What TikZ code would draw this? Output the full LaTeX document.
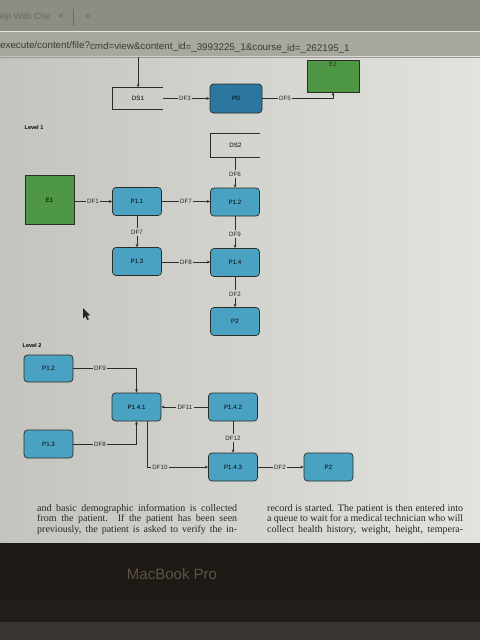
\documentclass[tikz,border=0pt]{standalone}
\usepackage{fontspec}
\setmainfont{Liberation Serif}
\setsansfont{Liberation Sans}
\usetikzlibrary{arrows.meta,calc}
\definecolor{tabbar}{HTML}{8D8C85}
\definecolor{tabtext}{HTML}{6A6A64}
\definecolor{addrbar}{HTML}{A9A89F}
\definecolor{addrtext}{HTML}{3A3934}
\definecolor{pageL}{HTML}{C4C4BF}
\definecolor{pageR}{HTML}{E2E2DE}
\definecolor{bezel}{HTML}{1D1915}
\definecolor{bezelband}{HTML}{221E1A}
\definecolor{bezellow}{HTML}{3B3631}
\definecolor{procblue}{HTML}{4AA2C2}
\definecolor{pzero}{HTML}{2B77A0}
\definecolor{entgreen}{HTML}{4E9745}
\definecolor{edge}{HTML}{2E2B28}
\definecolor{bodytext}{HTML}{2A2622}
\definecolor{macgray}{HTML}{5E5246}
\tikzset{
  dfdfont/.style={font=\sffamily\fontsize{6.2}{7}\selectfont},
  proc/.style={dfdfont, draw=edge, line width=0.7pt, fill=procblue, rounded corners=3.5pt,
    minimum width=49pt, minimum height=28pt, inner sep=0pt},
  ent/.style={dfdfont, draw=edge, line width=0.7pt, fill=entgreen, inner sep=0pt},
  store/.style={dfdfont, minimum width=50pt, minimum height=22pt, inner sep=0pt},
  storeline/.style={draw=edge, line width=0.7pt},
  dflab/.style={dfdfont, inner sep=1.3pt, text=black!85},
  flowline/.style={draw=edge, line width=0.75pt},
  flow/.style={draw=edge, line width=0.75pt, -{Stealth[length=3.2pt,width=2.8pt]}},
  lvl/.style={font=\sffamily\bfseries\fontsize{5.5}{6}\selectfont, inner sep=0pt},
  body/.style={font=\fontsize{10}{11}\selectfont, text=bodytext, inner sep=0pt, anchor=west}
}
\begin{document}
\begin{tikzpicture}[x=1pt,y=-1pt]
\useasboundingbox (0,0) rectangle (480,640);
% browser chrome
\fill[tabbar] (0,0) rectangle (480,31);
\fill[addrbar] (0,31) rectangle (480,56);
\draw[color=white!70!addrbar, line width=0.8pt] (0,31.5) -- (480,31.5);
\node[font=\sffamily\fontsize{9}{10}\selectfont, text=tabtext, anchor=west, inner sep=0pt] (tab) at (-1,17) {elp With Che};
\node[font=\sffamily\fontsize{10}{10}\selectfont, text=tabtext, inner sep=0pt] (tabx) at (61,17) {×};
\node[font=\sffamily\fontsize{12}{12}\selectfont, text=tabtext, inner sep=0pt] (tabplus) at (88,17) {+};
\draw[tabtext, line width=0.6pt] (73,9) -- (73,26);
\node[font=\sffamily\fontsize{9.8}{11}\selectfont, text=addrtext, anchor=west, inner sep=0pt, rotate=-0.6] (addr) at (0,45.5) {execute/content/file?cmd=view\&content\_id=\_3993225\_1\&course\_id=\_262195\_1};
% page
\shade[left color=pageL, right color=pageR] (0,56) rectangle (480,543);
\draw[color=black!40, line width=0.8pt] (0,57) -- (480,57);
% bezel
\fill[bezel] (0,543) rectangle (480,640);
\fill[bezelband] (0,600) rectangle (480,622);
\fill[bezellow] (0,622) rectangle (480,640);
\node[font=\sffamily\fontsize{15}{16}\selectfont, text=macgray, inner sep=0pt] (mac) at (172,574) {MacBook Pro};

% ---------- Level 0 / 1 ----------
\coordinate (topin) at (138,57);
\node[store] (ds1) at (138,98.5) {DS1};
\draw[storeline] (ds1.north east) -- (ds1.north west) -- (ds1.south west) -- (ds1.south east);
\draw[flow] (topin) -- (ds1.north);
\node[proc, fill=pzero, minimum width=52pt, minimum height=29pt] (p0) at (236,98.5) {P0};
\node[dflab] (l3) at (185,98.5) {DF3};
\draw[flowline] (ds1.east) -- (l3.west);
\draw[flow] (l3.east) -- (p0.west);
\node[ent, minimum width=52pt, minimum height=32pt] (e2) at (333,76) {};
\node[dflab, anchor=north, inner sep=2.5pt] (e2t) at (e2.north) {E2};
\node[dflab] (l5) at (285,98.5) {DF5};
\draw[flowline] (p0.east) -- (l5.west);
\draw[flow] (l5.east) -| (e2.south);

\node[lvl] (lv1) at (34,128) {Level 1};
\node[store, minimum width=49pt, minimum height=23pt] (ds2) at (235.5,145.5) {DS2};
\draw[storeline] (ds2.north east) -- (ds2.north west) -- (ds2.south west) -- (ds2.south east);

\node[ent, minimum width=49pt, minimum height=49pt] (e1) at (49.5,200) {E1};
\node[proc] (p11) at (137,201.5) {P1.1};
\node[proc] (p12) at (235,202) {P1.2};
\node[proc] (p13) at (137,261.5) {P1.3};
\node[proc] (p14) at (235,262.5) {P1.4};
\node[proc] (p2) at (235,321.5) {P2};

\node[dflab] (l6) at (235,174) {DF6};
\draw[flowline] (ds2.south -| l6) -- (l6.north);
\draw[flow] (l6.south) -- (p12.north);
\node[dflab] (l1) at (93,201.5) {DF1};
\draw[flowline] (e1.east |- l1) -- (l1.west);
\draw[flow] (l1.east) -- (p11.west);
\node[dflab] (l7a) at (186,201.5) {DF7};
\draw[flowline] (p11.east) -- (l7a.west);
\draw[flow] (l7a.east) -- (p12.west |- l7a);
\node[dflab] (l7b) at (137,232) {DF7};
\draw[flowline] (p11.south) -- (l7b.north);
\draw[flow] (l7b.south) -- (p13.north);
\node[dflab] (l9) at (235,234) {DF9};
\draw[flowline] (p12.south) -- (l9.north);
\draw[flow] (l9.south) -- (p14.north);
\node[dflab] (l8) at (186,262) {DF8};
\draw[flowline] (p13.east |- l8) -- (l8.west);
\draw[flow] (l8.east) -- (p14.west |- l8);
\node[dflab] (l2a) at (235,294) {DF2};
\draw[flowline] (p14.south) -- (l2a.north);
\draw[flow] (l2a.south) -- (p2.north);

% mouse pointer
\fill[black!85] (83,308) -- (83,318.5) -- (85.4,316.2) -- (87.3,320) -- (88.9,319.2) -- (87,315.6) -- (90.2,315.4) -- cycle;

% ---------- Level 2 ----------
\node[lvl] (lv2) at (32,346) {Level 2};
\node[proc, minimum height=27pt] (q12) at (48.5,368.5) {P1.2};
\node[proc] (q13) at (48.5,444) {P1.3};
\node[proc] (p141) at (136.5,407) {P1.4.1};
\node[proc] (p142) at (233,407) {P1.4.2};
\node[proc] (p143) at (233,467) {P1.4.3};
\node[proc] (p2b) at (328.5,467) {P2};

\node[dflab] (m9) at (100,368.5) {DF9};
\draw[flowline] (q12.east) -- (m9.west);
\draw[flow] (m9.east) -| (p141.north);
\node[dflab] (m8) at (100,444) {DF8};
\draw[flowline] (q13.east) -- (m8.west);
\draw[flow] (m8.east) -| (p141.south);
\node[dflab] (m11) at (185,407) {DF11};
\draw[flowline] (p142.west) -- (m11.east);
\draw[flow] (m11.west) -- (p141.east);
\node[dflab] (m12) at (233,438) {DF12};
\draw[flowline] (p142.south) -- (m12.north);
\draw[flow] (m12.south) -- (p143.north);
\node[dflab] (m10) at (160,467) {DF10};
\draw[flowline] ([xshift=10.5pt]p141.south) |- (m10.west);
\draw[flow] (m10.east) -- (p143.west);
\node[dflab] (m2) at (280,467) {DF2};
\draw[flowline] (p143.east) -- (m2.west);
\draw[flow] (m2.east) -- (p2b.west);

% ---------- body text ----------
\node[body] (t1) at (37,509) {\makebox[200pt][s]{and basic demographic information is collected}};
\node[body] (t2) at (37,519.5) {\makebox[200pt][s]{from the patient. If the patient has been seen}};
\node[body] (t3) at (37,530) {\makebox[200pt][s]{previously, the patient is asked to verify the in-}};
\node[body] (t4) at (267,509) {\makebox[196pt][s]{record is started. The patient is then entered into}};
\node[body] (t5) at (267,519.5) {\makebox[196pt][s]{a queue to wait for a medical technician who will}};
\node[body] (t6) at (267,530) {\makebox[196pt][s]{collect health history, weight, height, tempera-}};
\end{tikzpicture}
\end{document}
